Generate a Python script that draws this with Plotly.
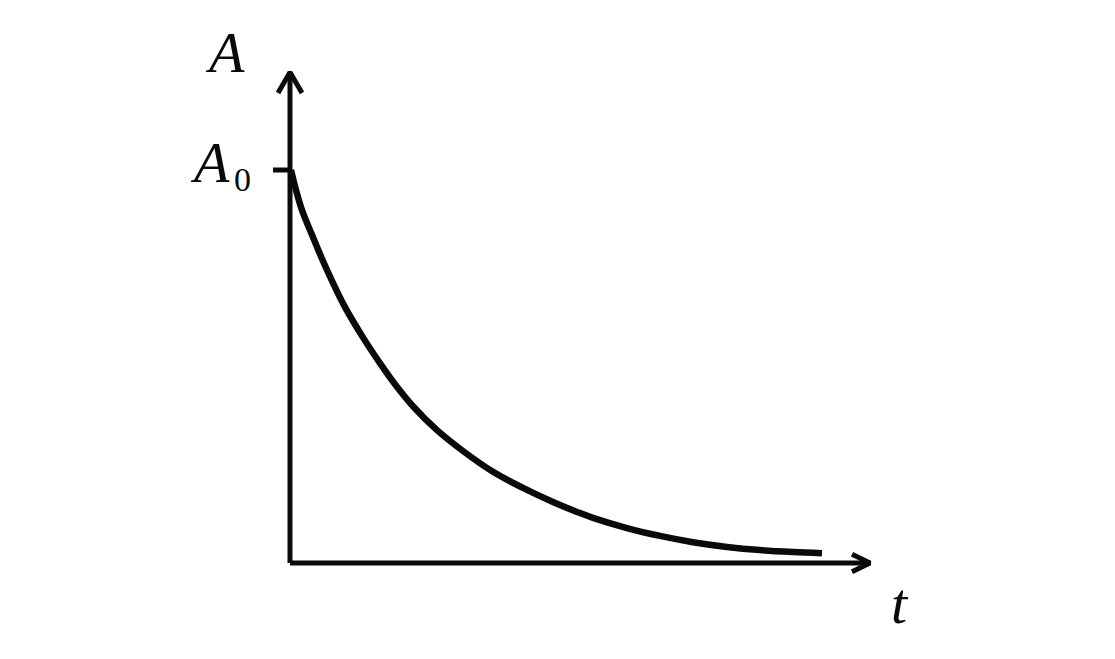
import plotly.graph_objects as go

# decay curve (t in arbitrary units, A relative to A0)
t_vals = [0.01, 0.06, 0.12, 0.22, 0.32, 0.42, 0.55, 0.72, 0.92, 1.05, 1.23,
          1.47, 1.73, 2.03, 2.33, 2.63, 2.87, 3.03, 3.37, 3.70, 4.03, 4.37,
          4.70, 5.03, 5.32]
a_vals = [1.0, 0.949, 0.898, 0.835, 0.774, 0.718, 0.651, 0.578, 0.501, 0.455,
          0.399, 0.338, 0.285, 0.232, 0.191, 0.155, 0.130, 0.115, 0.089,
          0.069, 0.053, 0.041, 0.033, 0.028, 0.025]

t_axis_end = 5.8
a_axis_end = 1.249
a0 = 1.0

ink = "#0a0a0a"
font_name = "Liberation Serif"

fig = go.Figure()

# axes with open arrow heads
fig.add_trace(go.Scatter(x=[0, 0], y=[0, a_axis_end], mode="lines",
                         line=dict(color=ink, width=5), hoverinfo="skip"))
fig.add_trace(go.Scatter(x=[0, t_axis_end], y=[0, 0], mode="lines",
                         line=dict(color=ink, width=5), hoverinfo="skip"))
fig.add_trace(go.Scatter(x=[-0.12, 0, 0.12], y=[a_axis_end - 0.053, a_axis_end, a_axis_end - 0.053],
                         mode="lines", line=dict(color=ink, width=5), hoverinfo="skip"))
fig.add_trace(go.Scatter(x=[t_axis_end - 0.18, t_axis_end, t_axis_end - 0.18], y=[0.022, 0, -0.022],
                         mode="lines", line=dict(color=ink, width=5), hoverinfo="skip"))
# A0 tick
fig.add_trace(go.Scatter(x=[-0.17, 0], y=[a0, a0], mode="lines",
                         line=dict(color=ink, width=5), hoverinfo="skip"))

# the curve
fig.add_trace(go.Scatter(x=t_vals, y=a_vals, mode="lines",
                         line=dict(color=ink, width=6.5, shape="spline", smoothing=1.0),
                         hoverinfo="skip"))

fig.add_annotation(x=-0.65, y=1.298, text="<i>A</i>", showarrow=False,
                   font=dict(family=font_name, size=58, color=ink))
fig.add_annotation(x=-0.80, y=1.020, text="<i>A</i>", showarrow=False,
                   font=dict(family=font_name, size=58, color=ink))
fig.add_annotation(x=-0.48, y=0.975, text="0", showarrow=False,
                   font=dict(family=font_name, size=34, color=ink))
fig.add_annotation(x=6.10, y=-0.102, text="<i>t</i>", showarrow=False,
                   font=dict(family=font_name, size=58, color=ink))

# ranges account for the 8px page margin around the plot div
fig.update_xaxes(range=[-2.82, 8.33], visible=False, fixedrange=True)
fig.update_yaxes(range=[-0.2646, 1.4122], visible=False, fixedrange=True)
fig.update_layout(width=1115, height=659, margin=dict(l=0, r=0, t=0, b=0),
                  plot_bgcolor="white", paper_bgcolor="white", showlegend=False)

fig.write_html("out.html")
